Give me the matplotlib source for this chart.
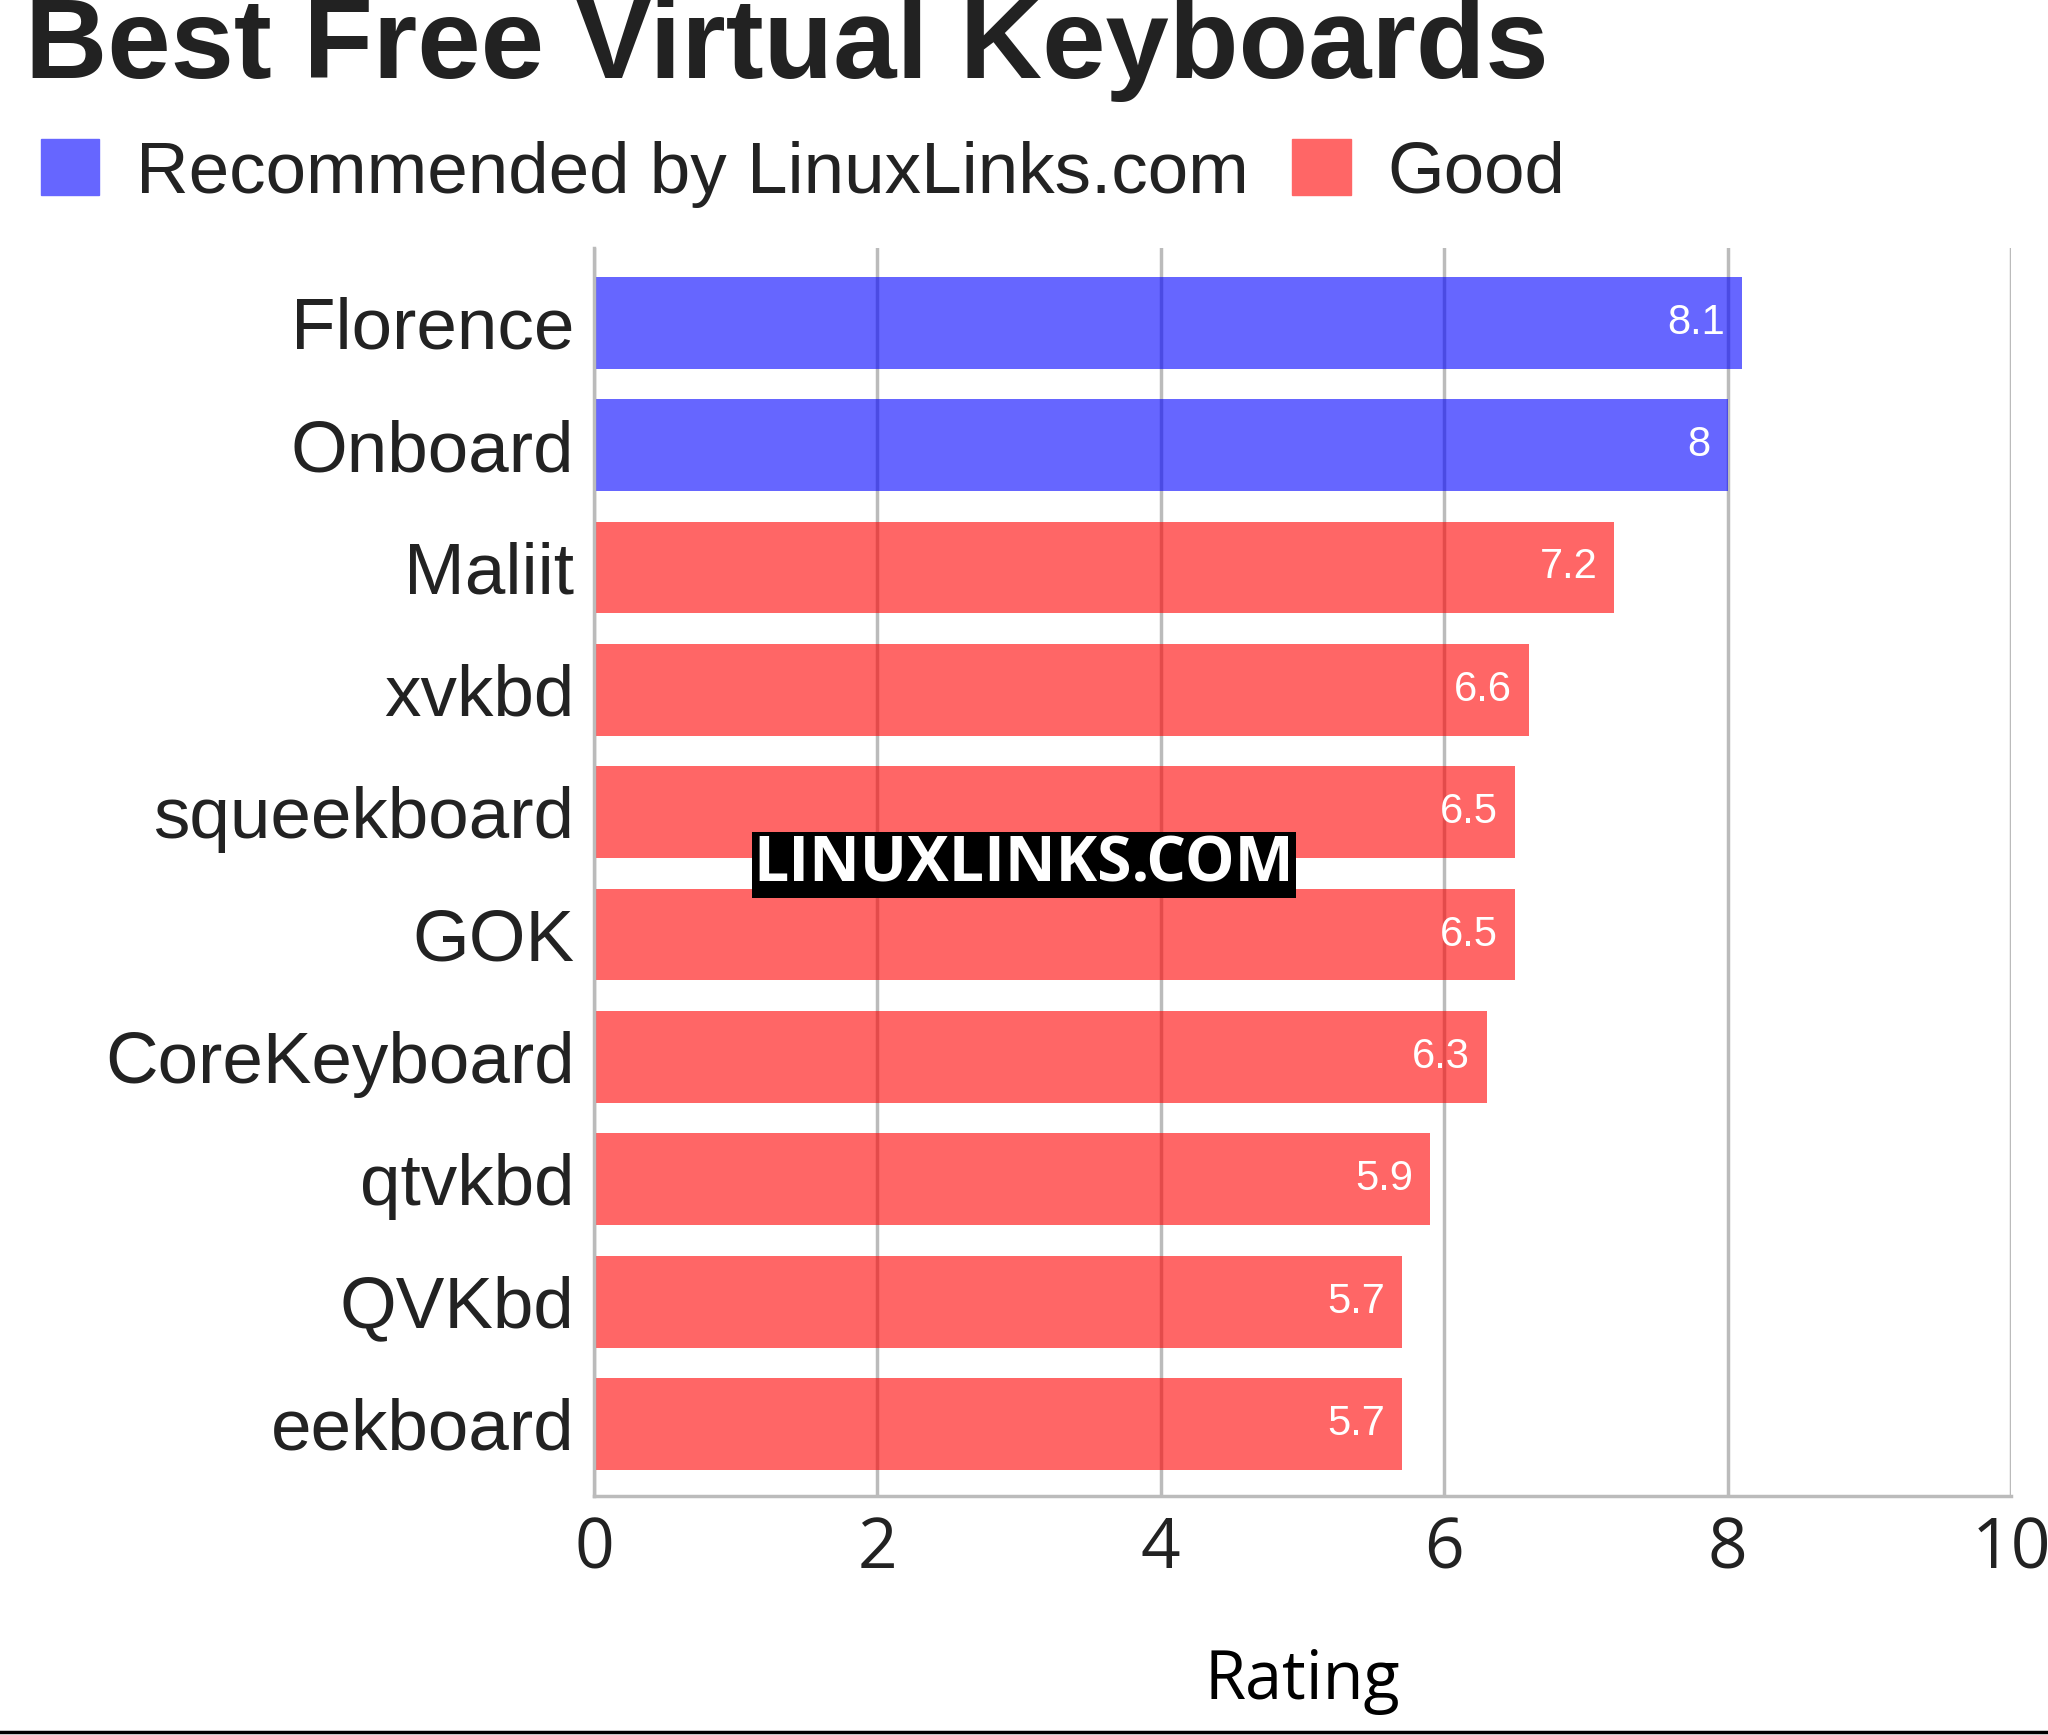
import matplotlib
matplotlib.use("Agg")
import matplotlib.pyplot as plt
from matplotlib.patches import Patch
from matplotlib.lines import Line2D

names = ["Florence", "Onboard", "Maliit", "xvkbd", "squeekboard", "GOK",
         "CoreKeyboard", "qtvkbd", "QVKbd", "eekboard"]
ratings = [8.1, 8, 7.2, 6.6, 6.5, 6.5, 6.3, 5.9, 5.7, 5.7]
groups = ["Recommended", "Recommended"] + ["Good"] * 8
colors = {"Recommended": (0, 0, 1), "Good": (1, 0, 0)}
xticks = [0, 2, 4, 6, 8, 10]

fig = plt.figure(figsize=(20.48, 17.35), dpi=100)
ax = fig.add_axes([0.290, 0.138, 0.692, 0.719])
ax.set_axisbelow(True)
ax.grid(axis="x", color="#bbbbbb", lw=2.5)
y = list(range(len(names)))
ax.barh(y, ratings, height=0.75, color=[colors[g] for g in groups], alpha=0.6, zorder=2)
for yi, v in zip(y, ratings):
    ax.text(v - 0.12, yi, f"{v:g}", ha="right", va="center", color="white",
            fontsize=30, family="Liberation Sans", zorder=3)
ax.set_ylim(9.585, -0.61)
ax.set_xlim(0, 10)
ax.set_yticks(y)
ax.set_yticklabels(names, fontsize=52.5, family="Liberation Sans", color="#222222")
ax.set_xticks(xticks)
ax.set_xticklabels([str(t) for t in xticks], fontsize=50, family="Open Sans", color="#222222")
ax.tick_params(length=0, pad=14)
for s in ["top", "right"]:
    ax.spines[s].set_visible(False)
for s in ["left", "bottom"]:
    ax.spines[s].set_color("#bbbbbb")
    ax.spines[s].set_linewidth(2.5)
ax.set_xlabel("Rating", fontsize=48, family="Open Sans", labelpad=45, x=0.5)

fig.text(0.012, 0.972, "Best Free Virtual Keyboards", fontsize=82, weight="bold",
         family="Liberation Sans", color="#222222", va="center")
handles = [Patch(color=(0.4, 0.4, 1)), Patch(color=(1, 0.4, 0.4))]
fig.legend(handles, ["Recommended by LinuxLinks.com", "Good"], loc="center left",
           bbox_to_anchor=(-0.012, 0.900), ncol=2, frameon=False,
           prop={"family": "Liberation Sans", "size": 52.5}, handlelength=0.8, handleheight=0.8,
           handletextpad=0.5, columnspacing=0.6, labelcolor="#222222")
fig.text(0.5, 0.5015, "LINUXLINKS.COM", fontsize=45, weight="bold", family="Open Sans",
         color="white", ha="center", va="center",
         bbox=dict(facecolor="black", edgecolor="none", pad=1))
fig.add_artist(Line2D([0, 1], [0.0015, 0.0015], color="black", lw=2.5))
fig.savefig("out.png", dpi=100)
